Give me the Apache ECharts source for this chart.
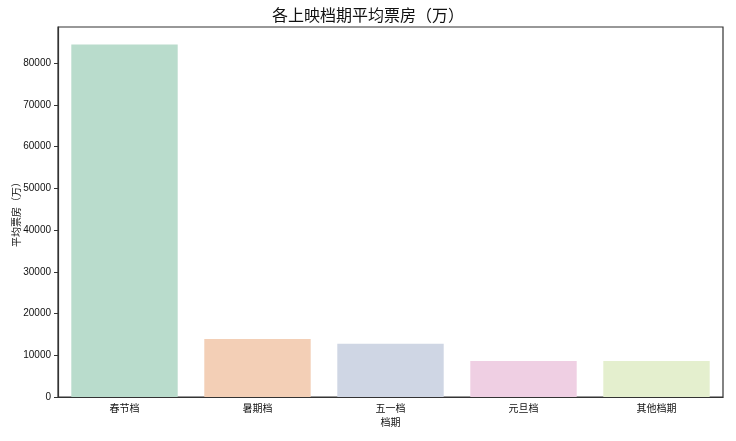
<!DOCTYPE html>
<html><head><meta charset="utf-8">
<script src="https://cdn.jsdelivr.net/npm/echarts@6/dist/echarts.min.js"></script>
<style>html,body{margin:0;padding:0;background:#fff}#c{width:736px;height:441px}</style>
</head><body><div id="c"></div>
<script>
const categories = ['春节档', '暑期档', '五一档', '元旦档', '其他档期'];
const values = [84450, 13870, 12750, 8620, 8600];
const colors = ['#b9dccc', '#f3cfb6', '#cfd6e4', '#efcfe3', '#e4efce'];
const yTicks = [0, 10000, 20000, 30000, 40000, 50000, 60000, 70000, 80000];
const FONT = '"Liberation Sans", "Noto Sans CJK SC", sans-serif';
const chart = echarts.init(document.getElementById('c'), null, {renderer: 'canvas'});
chart.setOption({
  animation: false,
  backgroundColor: '#fff',
  title: {
    text: '各上映档期平均票房（万）', left: 'center', top: 2,
    textStyle: {fontFamily: '"Noto Sans CJK SC", sans-serif', fontSize: 16, fontWeight: 'normal', color: '#111'}
  },
  grid: {left: 58, right: 13, top: 27, bottom: 44, outerBoundsMode: 'none', containLabel: false,
         show: true, borderColor: '#333', borderWidth: 1.2, backgroundColor: 'transparent'},
  xAxis: {
    type: 'category', data: categories,
    name: '档期', nameLocation: 'middle', nameGap: 21, nameMoveOverlap: false,
    nameTextStyle: {fontFamily: FONT, fontSize: 10, color: '#111'},
    axisLine: {lineStyle: {color: '#333', width: 1.2}},
    axisTick: {alignWithLabel: true, length: 4, lineStyle: {color: '#333'}},
    axisLabel: {fontFamily: FONT, fontSize: 10, color: '#111', margin: 7},
    splitLine: {show: false}
  },
  yAxis: {
    type: 'value', min: 0, max: 88670, interval: 10000,
    name: '平均票房（万）', nameLocation: 'middle', nameGap: 36, nameRotate: 90, nameMoveOverlap: false,
    nameTextStyle: {fontFamily: FONT, fontSize: 10, color: '#111'},
    axisLine: {show: true, lineStyle: {color: '#333', width: 1.2}},
    axisTick: {show: true, length: 4, lineStyle: {color: '#333'}, customValues: yTicks},
    axisLabel: {fontFamily: FONT, fontSize: 10, color: '#111', margin: 7, customValues: yTicks,
                formatter: v => String(v)},
    splitLine: {show: false}
  },
  series: [{
    type: 'bar', barWidth: '80%',
    data: values.map((v, i) => ({value: v, itemStyle: {color: colors[i]}}))
  }]
});
</script></body></html>
